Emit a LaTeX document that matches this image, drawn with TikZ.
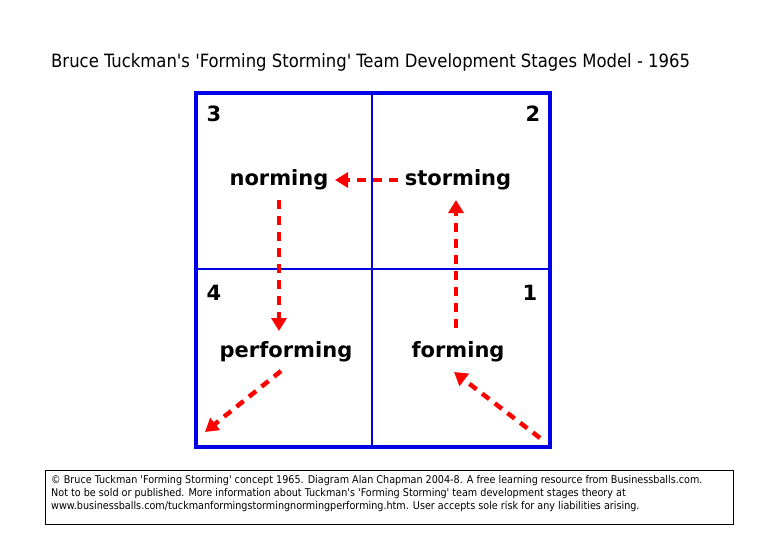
\documentclass[tikz,border=0pt]{standalone}
\usepackage{fontspec}
\setmainfont{DejaVu Sans}
\newfontfamily\condfont{DejaVu Sans Condensed}
\usetikzlibrary{arrows.meta}
\definecolor{gridblue}{RGB}{0,0,230}
\begin{document}
\begin{tikzpicture}[x=1pt,y=-1pt,
  stage/.style={font=\fontsize{21}{24}\selectfont\bfseries, inner sep=0pt},
  num/.style={font=\fontsize{21}{24}\selectfont\bfseries, inner sep=0pt},
  flow/.style={draw=red, line width=4.5pt, dash pattern=on 9pt off 7pt,
    -{Triangle[width=15pt,length=13pt]}},
  frame/.style={draw=gridblue, line width=4.5pt},
  grid/.style={draw=gridblue, line width=2pt}]
\useasboundingbox (0,0) rectangle (768,543);
\node[anchor=west, inner sep=0pt, font=\condfont\fontsize{18.3}{21}\selectfont] (title) at (51,62) {Bruce Tuckman's 'Forming Storming' Team Development Stages Model - 1965};
% grid
\coordinate (tl) at (196,93);
\coordinate (br) at (550,447);
\coordinate (vt) at (372,93);
\coordinate (vb) at (372,447);
\coordinate (hl) at (196,269);
\coordinate (hr) at (550,269);
\draw[grid] (vt) -- (vb);
\draw[grid] (hl) -- (hr);
\draw[frame] (tl) rectangle (br);
% numbers
\node[num] (n3) at (214,114) {3};
\node[num] (n2) at (533,114) {2};
\node[num] (n4) at (214,293) {4};
\node[num] (n1) at (530,293) {1};
% stages
\node[stage] (norming) at (279,180) {norming};
\node[stage] (storming) at (458,180) {storming};
\node[stage] (performing) at (286,352) {performing};
\node[stage] (forming) at (458,352) {forming};
% connector end points
\coordinate (storm-w) at (398,180);
\coordinate (norm-e) at (335,180);
\coordinate (norm-s) at (279,200);
\coordinate (perf-n) at (279,331);
\coordinate (form-n) at (456,328);
\coordinate (storm-s) at (456,200);
\coordinate (perf-s) at (281,371);
\coordinate (finish) at (205,432);
\coordinate (start) at (540,438);
\coordinate (form-s) at (454,372);
% arrows
\draw[flow] (storm-w) -- (norm-e);
\draw[flow] (norm-s) -- (perf-n);
\draw[flow] (form-n) -- (storm-s);
\draw[flow] (perf-s) -- (finish);
\draw[flow] (start) -- (form-s);
% footer
\node[draw=black, line width=0.8pt, anchor=north west, minimum width=688pt, minimum height=54pt, inner sep=0pt] (footbox) at (45,470) {};
\node[anchor=north west, inner sep=0pt, align=left, font=\condfont\fontsize{10.7}{13}\selectfont] (foot) at (51,475) {© Bruce Tuckman 'Forming Storming' concept 1965. Diagram Alan Chapman 2004-8. A free learning resource from Businessballs.com.\\Not to be sold or published. More information about Tuckman's 'Forming Storming' team development stages theory at\\www.businessballs.com/tuckmanformingstormingnormingperforming.htm. User accepts sole risk for any liabilities arising.};
\end{tikzpicture}
\end{document}
